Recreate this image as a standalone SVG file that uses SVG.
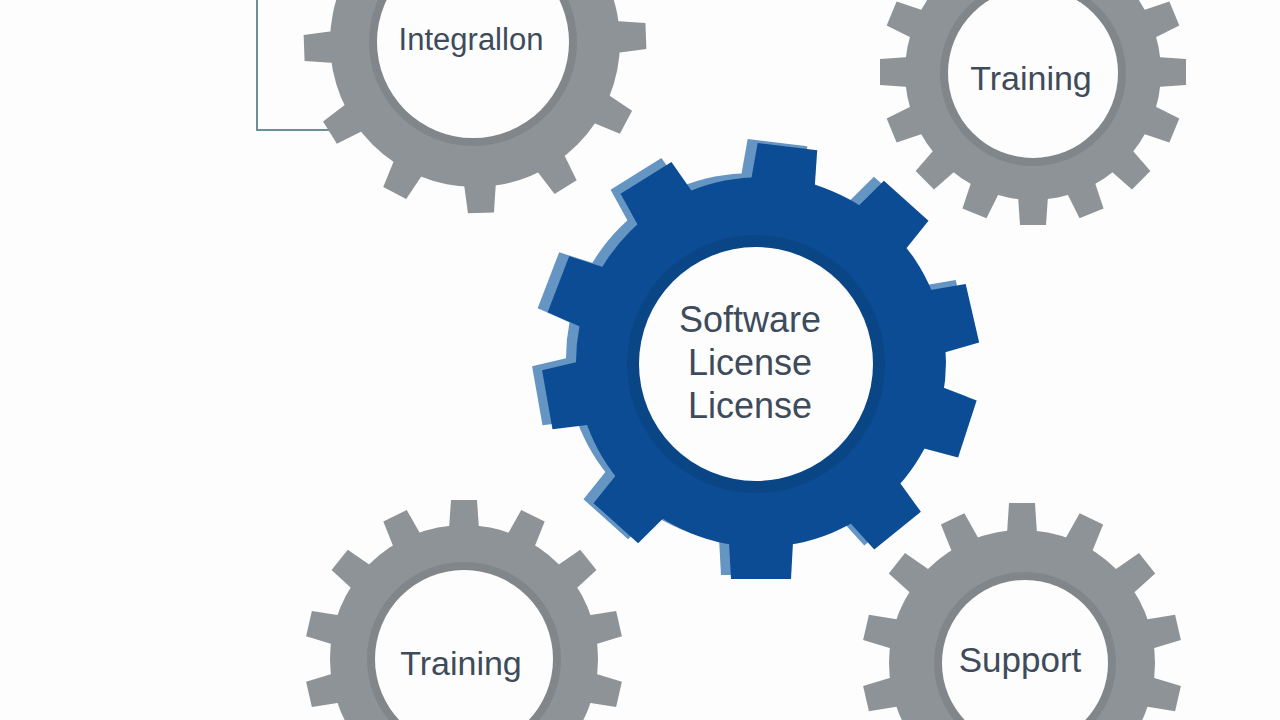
<svg xmlns="http://www.w3.org/2000/svg" xmlns:xlink="http://www.w3.org/1999/xlink" width="1280" height="720" viewBox="0 0 1280 720">
<style>
.gray{fill:#8e9397}
.ring{fill:none;stroke:#80868a;stroke-width:8}
.hole{fill:#fdfdfd}
.blue{fill:#0c4c94}
.side{fill:#6595c2}
.bring{fill:none;stroke:#0a4686;stroke-width:12}
.lbl{font-family:"Liberation Sans",Arial,Helvetica,sans-serif;fill:#3e4b5b;text-anchor:middle}
.conn{fill:none;stroke:#6b9196;stroke-width:2}
</style>
<defs>
<polygon id="tI" points="141,-16 171,-13 171,13 141,16"/>
<polygon id="tT" points="124,-15 153,-13 153,13 124,15"/>
<polygon id="tB" points="180,-32 217,-30 217,30 180,32"/>
<polygon id="tL" points="130,-15 159,-13 159,13 130,15"/>
<polygon id="tS" points="129,-15 160,-13 160,13 129,15"/>
<g id="blueShape">
<circle r="185"/>
<use xlink:href="#tB" transform="rotate(-83)"/>
<use xlink:href="#tB" transform="rotate(-48)"/>
<use xlink:href="#tB" transform="rotate(-13)"/>
<use xlink:href="#tB" transform="rotate(18)"/>
<use xlink:href="#tB" transform="rotate(51)"/>
<use xlink:href="#tB" transform="rotate(90)"/>
<use xlink:href="#tB" transform="rotate(132)"/>
<use xlink:href="#tB" transform="rotate(170)"/>
<use xlink:href="#tB" transform="rotate(201)"/>
<use xlink:href="#tB" transform="rotate(238)"/>
</g>
</defs>
<rect width="1280" height="720" fill="#fdfdfd"/>
<g id="connectors">
<polyline class="conn" points="257,0 257,130 335,130"/>
</g>
<g id="gear-integration">
<g class="gray" transform="translate(475,42)">
<circle r="145"/>
<use xlink:href="#tI" transform="rotate(-2)"/>
<use xlink:href="#tI" transform="rotate(28)"/>
<use xlink:href="#tI" transform="rotate(58)"/>
<use xlink:href="#tI" transform="rotate(88)"/>
<use xlink:href="#tI" transform="rotate(118)"/>
<use xlink:href="#tI" transform="rotate(148)"/>
<use xlink:href="#tI" transform="rotate(178)"/>
<use xlink:href="#tI" transform="rotate(208)"/>
<use xlink:href="#tI" transform="rotate(238)"/>
<use xlink:href="#tI" transform="rotate(268)"/>
<use xlink:href="#tI" transform="rotate(298)"/>
<use xlink:href="#tI" transform="rotate(328)"/>
</g>
<circle class="ring" cx="473" cy="42" r="100"/>
<circle class="hole" cx="473" cy="42" r="96"/>
<text class="lbl" x="471" y="50" font-size="31">Integrallon</text>
</g>
<g id="gear-training-top">
<g class="gray" transform="translate(1033,72)">
<circle r="128"/>
<use xlink:href="#tT" transform="rotate(0)"/>
<use xlink:href="#tT" transform="rotate(22.5)"/>
<use xlink:href="#tT" transform="rotate(45)"/>
<use xlink:href="#tT" transform="rotate(67.5)"/>
<use xlink:href="#tT" transform="rotate(90)"/>
<use xlink:href="#tT" transform="rotate(112.5)"/>
<use xlink:href="#tT" transform="rotate(135)"/>
<use xlink:href="#tT" transform="rotate(157.5)"/>
<use xlink:href="#tT" transform="rotate(180)"/>
<use xlink:href="#tT" transform="rotate(202.5)"/>
<use xlink:href="#tT" transform="rotate(225)"/>
<use xlink:href="#tT" transform="rotate(247.5)"/>
<use xlink:href="#tT" transform="rotate(270)"/>
<use xlink:href="#tT" transform="rotate(292.5)"/>
<use xlink:href="#tT" transform="rotate(315)"/>
<use xlink:href="#tT" transform="rotate(337.5)"/>
</g>
<circle class="ring" cx="1033" cy="73" r="89"/>
<circle class="hole" cx="1033" cy="73" r="85"/>
<text class="lbl" x="1031" y="90" font-size="34">Training</text>
</g>
<g id="gear-training-bottom">
<g class="gray" transform="translate(464,659)">
<circle r="134"/>
<use xlink:href="#tL" transform="rotate(-90)"/>
<use xlink:href="#tL" transform="rotate(-64.29)"/>
<use xlink:href="#tL" transform="rotate(-38.57)"/>
<use xlink:href="#tL" transform="rotate(-12.86)"/>
<use xlink:href="#tL" transform="rotate(12.86)"/>
<use xlink:href="#tL" transform="rotate(38.57)"/>
<use xlink:href="#tL" transform="rotate(64.29)"/>
<use xlink:href="#tL" transform="rotate(90)"/>
<use xlink:href="#tL" transform="rotate(115.71)"/>
<use xlink:href="#tL" transform="rotate(141.43)"/>
<use xlink:href="#tL" transform="rotate(167.14)"/>
<use xlink:href="#tL" transform="rotate(192.86)"/>
<use xlink:href="#tL" transform="rotate(218.57)"/>
<use xlink:href="#tL" transform="rotate(244.29)"/>
</g>
<circle class="ring" cx="464" cy="659" r="93"/>
<circle class="hole" cx="464" cy="659" r="89"/>
<text class="lbl" x="461" y="675" font-size="34">Training</text>
</g>
<g id="gear-support">
<g class="gray" transform="translate(1022,663)">
<circle r="133"/>
<use xlink:href="#tS" transform="rotate(-90)"/>
<use xlink:href="#tS" transform="rotate(-64.29)"/>
<use xlink:href="#tS" transform="rotate(-38.57)"/>
<use xlink:href="#tS" transform="rotate(-12.86)"/>
<use xlink:href="#tS" transform="rotate(12.86)"/>
<use xlink:href="#tS" transform="rotate(38.57)"/>
<use xlink:href="#tS" transform="rotate(64.29)"/>
<use xlink:href="#tS" transform="rotate(90)"/>
<use xlink:href="#tS" transform="rotate(115.71)"/>
<use xlink:href="#tS" transform="rotate(141.43)"/>
<use xlink:href="#tS" transform="rotate(167.14)"/>
<use xlink:href="#tS" transform="rotate(192.86)"/>
<use xlink:href="#tS" transform="rotate(218.57)"/>
<use xlink:href="#tS" transform="rotate(244.29)"/>
</g>
<circle class="ring" cx="1025" cy="663" r="87"/>
<circle class="hole" cx="1025" cy="663" r="83"/>
<text class="lbl" x="1020" y="672" font-size="35">Support</text>
</g>
<g id="gear-license">
<use xlink:href="#blueShape" class="side" transform="translate(751,358)"/>
<use xlink:href="#blueShape" class="blue" transform="translate(761,362)"/>
<circle class="bring" cx="756" cy="364" r="123"/>
<circle class="hole" cx="756" cy="364" r="117"/>
<text class="lbl" x="750" y="332" font-size="36">Software</text>
<text class="lbl" x="750" y="375" font-size="36">License</text>
<text class="lbl" x="750" y="418" font-size="36">License</text>
</g>
</svg>
